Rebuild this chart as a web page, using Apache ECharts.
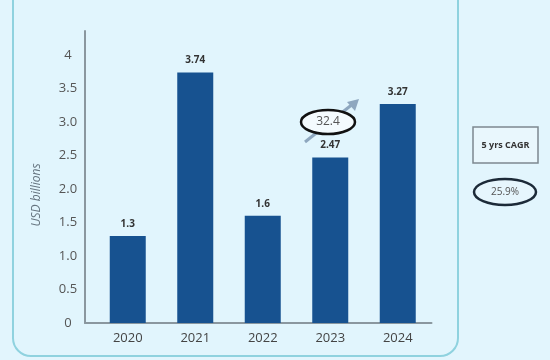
<!DOCTYPE html>
<html>
<head>
<meta charset="utf-8">
<script src="https://cdn.jsdelivr.net/npm/echarts@6/dist/echarts.min.js"></script>
<style>
html,body{margin:0;padding:0;background:#e2f5fd;}
#chart{width:550px;height:360px;}
</style>
</head>
<body>
<div id="chart"></div>
<script>
var categories = ['2020', '2021', '2022', '2023', '2024'];
var values = [1.3, 3.74, 1.6, 2.47, 3.27];
var yTickLabels = ['0', '0.5', '1.0', '1.5', '2.0', '2.5', '3.0', '3.5', '4'];
var yAxisTitle = 'USD billions';
var growthNote = '32.4';
var cagrTitle = '5 yrs CAGR';
var cagrValue = '25.9%';

var FONT = '"Open Sans", sans-serif';
var chart = echarts.init(document.getElementById('chart'));

var yMin = 0, yMax = 4.36, yStep = 0.5;
function tickLabel(v) {
  var i = Math.round(v / yStep);
  if (Math.abs(i * yStep - v) > 1e-6) return '';
  return yTickLabels[i] !== undefined ? yTickLabels[i] : '';
}

chart.setOption({
  backgroundColor: '#e2f5fd',
  animation: false,
  grid: [
    {left: 94, right: 118.5, top: 31, bottom: 37},
    {left: 85, right: 118.5, top: 31, bottom: 37}
  ],
  xAxis: [
    {
      type: 'category', gridIndex: 0, data: categories,
      axisLine: {show: false}, axisTick: {show: false},
      axisLabel: {color: '#444', fontFamily: FONT, fontSize: 13, margin: 9}
    },
    {
      type: 'value', gridIndex: 1, min: 0, max: 1,
      axisLine: {show: true, lineStyle: {color: '#8a979f', width: 2}},
      axisTick: {show: false}, axisLabel: {show: false}, splitLine: {show: false}
    }
  ],
  yAxis: [
    {
      type: 'value', gridIndex: 0, min: yMin, max: yMax, interval: yStep,
      axisLine: {show: false}, axisTick: {show: false},
      axisLabel: {show: false}, splitLine: {show: false}
    },
    {
      type: 'value', gridIndex: 1, min: yMin, max: yMax, interval: yStep,
      axisLine: {show: true, lineStyle: {color: '#8a979f', width: 2}},
      axisTick: {show: false}, splitLine: {show: false},
      axisLabel: {
        color: '#555', fontFamily: FONT, fontSize: 13, margin: 17,
        align: 'center', formatter: tickLabel
      }
    }
  ],
  series: [{
    type: 'bar', xAxisIndex: 0, yAxisIndex: 0,
    data: values, barWidth: 36,
    itemStyle: {color: '#175290'},
    label: {
      show: true, position: 'top', distance: 7,
      color: '#333', fontFamily: FONT, fontSize: 10, fontWeight: 'bold'
    }
  }],
  graphic: [
    {
      type: 'rect', z: -10, silent: true,
      shape: {x: 13, y: -30, width: 445, height: 386, r: 18},
      style: {fill: '#e1f5fd', stroke: '#8fd2df', lineWidth: 2}
    },
    {
      type: 'text', rotation: Math.PI / 2, x: 37, y: 195,
      style: {
        text: yAxisTitle, fill: '#667580', fontFamily: FONT,
        fontSize: 12, fontStyle: 'italic',
        align: 'center', verticalAlign: 'middle'
      }
    },
    {
      type: 'line', z: 5,
      shape: {x1: 305, y1: 142, x2: 354, y2: 103},
      style: {stroke: '#8ea7bf', lineWidth: 3}
    },
    {
      type: 'polygon', z: 5,
      shape: {points: [[359, 99], [347, 102], [355, 111]]},
      style: {fill: '#8ea7bf'}
    },
    {
      type: 'ellipse', z: 6,
      shape: {cx: 328, cy: 122, rx: 27, ry: 12},
      style: {fill: '#f4fbfe', stroke: '#111', lineWidth: 2.5}
    },
    {
      type: 'text', z: 7, x: 328, y: 122,
      style: {
        text: growthNote, fill: '#555', fontFamily: FONT, fontSize: 12,
        align: 'center', verticalAlign: 'middle'
      }
    },
    {
      type: 'rect',
      shape: {x: 473, y: 127, width: 65, height: 36},
      style: {fill: '#e9f7fd', stroke: '#7d8890', lineWidth: 1.5}
    },
    {
      type: 'text', x: 505.5, y: 145,
      style: {
        text: cagrTitle, fill: '#333', fontFamily: FONT, fontSize: 9,
        fontWeight: 'bold', align: 'center', verticalAlign: 'middle'
      }
    },
    {
      type: 'ellipse',
      shape: {cx: 505, cy: 192, rx: 31, ry: 13},
      style: {fill: '#e6f6fd', stroke: '#1c2a38', lineWidth: 2.5}
    },
    {
      type: 'text', x: 505, y: 192,
      style: {
        text: cagrValue, fill: '#555', fontFamily: FONT, fontSize: 10,
        align: 'center', verticalAlign: 'middle'
      }
    }
  ]
});
</script>
</body>
</html>
